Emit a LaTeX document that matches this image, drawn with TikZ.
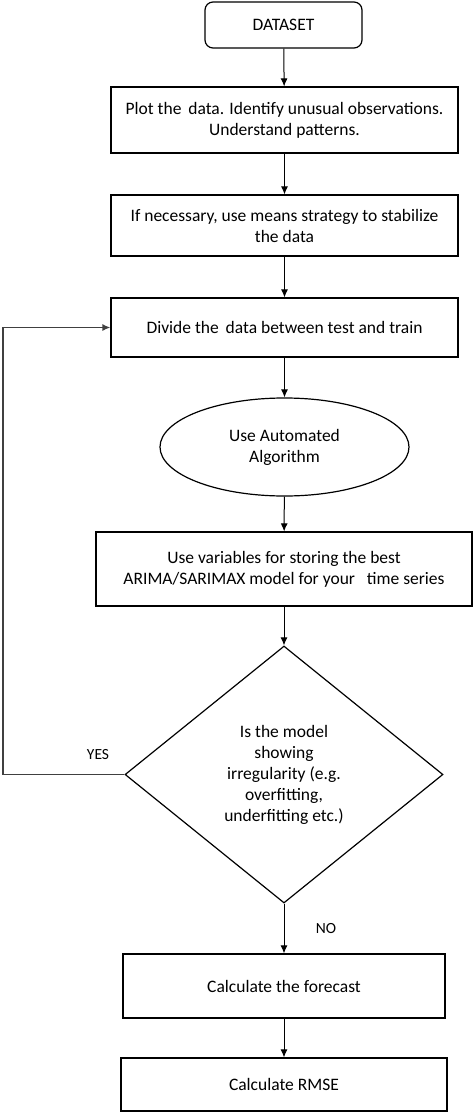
\documentclass[tikz,border=0pt]{standalone}
\usepackage{fontspec}
\setmainfont{Carlito}
\usepackage{tikz}
\usetikzlibrary{arrows.meta,positioning,shapes.geometric}

\begin{document}
\begin{tikzpicture}[
  x=1pt, y=-1pt,
  every node/.style={font=\fontsize{17.5}{21}\selectfont},
  startbox/.style={draw, rounded corners=8pt, line width=1.2pt, minimum width=157pt, minimum height=46pt},
  stepbox/.style={draw, line width=1.2pt, align=center, inner sep=0pt},
  algo/.style={draw, ellipse, line width=1.2pt, align=center, inner sep=0pt, minimum width=249pt, minimum height=98pt},
  check/.style={draw, diamond, line width=1.2pt, align=center, inner sep=0pt, minimum width=318pt, minimum height=257pt},
  arr/.style={-{Latex[length=8pt,width=7pt]}, line width=1pt},
  lbl/.style={font=\fontsize{15.5}{18}\selectfont}
]
\useasboundingbox (0,0) rectangle (474,1115);

\node[startbox] (data) at (283.5,25) {DATASET};
\node[stepbox, minimum width=347pt, minimum height=66pt] (plot) at (284.5,120)
  {Plot the \,data. Identify unusual observations.\\Understand patterns.};
\node[stepbox, minimum width=347pt, minimum height=61pt] (stab) at (284.5,225.5)
  {If necessary, use means strategy to stabilize\\the data};
\node[stepbox, minimum width=347pt, minimum height=59pt] (split) at (284.5,327.5)
  {Divide the \,data between test and train};
\node[algo] (auto) at (284.5,447) {Use Automated\\Algorithm};
\node[stepbox, minimum width=376pt, minimum height=74pt] (store) at (284,569)
  {Use variables for storing the best\\ARIMA/SARIMAX model for your~~~time series};
\node[check] (irreg) at (284,774.5)
  {Is the model\\showing\\irregularity (e.g.\\overfitting,\\underfitting etc.)};
\node[stepbox, minimum width=322pt, minimum height=64pt] (fcast) at (284,986) {Calculate the forecast};
\node[stepbox, minimum width=326pt, minimum height=53pt] (rmse) at (284,1084.5) {Calculate RMSE};

\coordinate (back) at (3,774.5);

\draw[arr] (data) -- (plot);
\draw[arr] (plot) -- (stab);
\draw[arr] (stab) -- (split);
\draw[arr] (split) -- (auto);
\draw[arr] (auto) -- (store);
\draw[arr] (store) -- (irreg);
\draw[arr] (irreg) -- node[lbl, right=28pt] {NO} (fcast);
\draw[arr] (fcast) -- (rmse);
\draw[arr, draw=black!75, line width=1.4pt] (irreg.west) -- (back) |- (split.west);

\node[lbl] (yes) at (98,755) {YES};
\end{tikzpicture}
\end{document}
